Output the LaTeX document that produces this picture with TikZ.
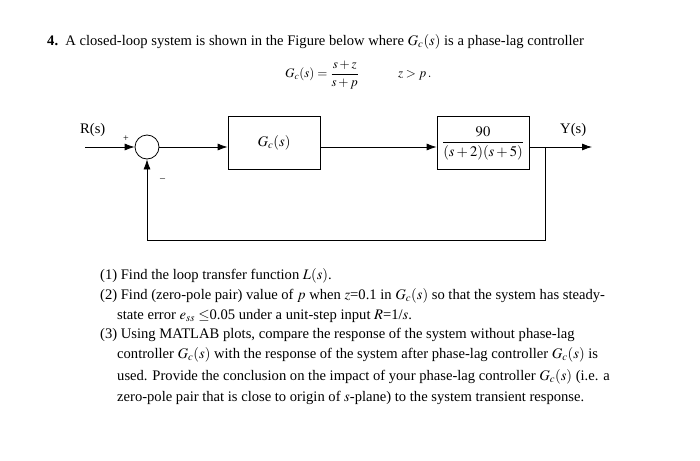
\documentclass[tikz,border=0pt]{standalone}
\usepackage{amsmath}
\usepackage{mathptmx}
\usepackage{fontspec}
\setmainfont{Liberation Serif}
\usetikzlibrary{arrows.meta}
\begin{document}
\begin{tikzpicture}[x=1pt,y=-1pt,
 txt/.style={anchor=west,inner sep=0,font=\fontsize{14.6}{16}\selectfont},
 blk/.style={draw,line width=0.8pt,minimum width=92pt,minimum height=53pt,inner sep=0,font=\fontsize{14.6}{16}\selectfont},
 sig/.style={line width=0.8pt,-{Latex[length=10pt,width=7pt]}},
 ln/.style={line width=0.8pt}]
\useasboundingbox (0,0) rectangle (700,460);
\node[txt] (t) at (47,42) {\textbf{4.}\ \ A closed-loop system is shown in the Figure below where $G_c(s)$ is a phase-lag controller};
\node[txt,font=\fontsize{13}{15}\selectfont] (f) at (285,75) {$G_c(s)=\dfrac{s+z}{s+p}$\hspace{3em}$z>p\,.$};
\node[draw,circle,line width=0.8pt,minimum size=24pt,inner sep=0] (sum) at (147,147) {};
\node[blk] (gc) at (274,143) {$G_c(s)$};
\node[blk] (pl) at (483,143) {$\dfrac{90}{(s+2)(s+5)}$};
\coordinate (in) at (85,147);
\coordinate (br) at (545,147);
\coordinate (out) at (592,147);
\coordinate (bot) at (545,240);
\node[txt] (r) at (80,130) {R(s)};
\node[txt] (y) at (560,130) {Y(s)};
\node[txt,font=\normalsize] (pl1) at (123,139) {+};
\node[txt,font=\normalsize] (mi) at (160,180) {--};
\draw[sig] (in) -- (sum);
\draw[sig] (sum) -- (gc.west|-sum);
\draw[sig] (gc.east|-sum) -- (pl.west|-sum);
\draw[ln] (pl.east|-sum) -- (br);
\draw[sig] (br) -- (out);
\draw[sig] (br) -- (bot) -| (sum);
\node[txt] (a) at (100,276) {(1) Find the loop transfer function $L(s)$.};
\node[txt] (b) at (100,296) {(2) Find (zero-pole pair) value of $p$ when $z$=0.1 in $G_c(s)$ so that the system has steady-};
\node[txt] (b2) at (117,316) {state error $e_{ss}\le$0.05 under a unit-step input $R$=1/$s$.};
\node[txt] (c) at (100,335) {(3) Using MATLAB plots, compare the response of the system without phase-lag};
\node[txt] (c2) at (117,355) {controller $G_c(s)$ with the response of the system after phase-lag controller $G_c(s)$ is};
\node[txt] (c3) at (117,377) {used. Provide the conclusion on the impact of your phase-lag controller $G_c(s)$ (i.e. a};
\node[txt] (c4) at (117,398) {zero-pole pair that is close to origin of $s$-plane) to the system transient response.};
\end{tikzpicture}
\end{document}
